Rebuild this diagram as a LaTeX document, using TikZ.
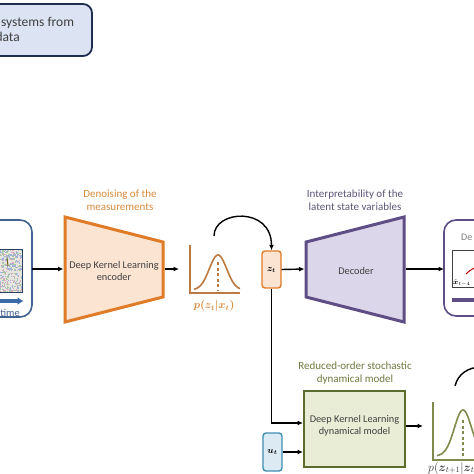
\documentclass[tikz,border=0pt]{standalone}
\usepackage{fontspec}
\setmainfont{Carlito}
\usepackage{amsmath}
\usetikzlibrary{arrows.meta}
\definecolor{navyB}{HTML}{1F2D50}
\definecolor{topfill}{HTML}{DCE3F3}
\definecolor{txtgray}{HTML}{404040}
\definecolor{inblue}{HTML}{41618F}
\definecolor{arrblue}{HTML}{3A6AA8}
\definecolor{orangeB}{HTML}{E07B28}
\definecolor{peach}{HTML}{FCE4D2}
\definecolor{orangeT}{HTML}{D98A3D}
\definecolor{distO}{HTML}{BC7A40}
\definecolor{purpleB}{HTML}{5E4E85}
\definecolor{purpleF}{HTML}{DCD6EA}
\definecolor{purpleT}{HTML}{5F5678}
\definecolor{oliveB}{HTML}{5C6B2E}
\definecolor{oliveF}{HTML}{E9EDD6}
\definecolor{oliveT}{HTML}{6E7A3E}
\definecolor{distG}{HTML}{7E8B4B}
\definecolor{tealB}{HTML}{3E8DB5}
\definecolor{lightblue}{HTML}{DCEBF3}
\definecolor{noiseA}{HTML}{D9A8C0}
\definecolor{noiseB}{HTML}{A8C8A0}
\definecolor{noiseC}{HTML}{9FB4D8}
\definecolor{noiseD}{HTML}{E8E4E0}
\begin{document}
\begin{tikzpicture}[x=1pt,y=-1pt,
  >={Latex[length=5.5pt,width=5pt]},
  conn/.style={draw=black,line width=1.4pt,->},
  title/.style={align=center,font=\fontsize{11}{13}\selectfont,inner sep=0pt},
  inner/.style={align=center,font=\fontsize{10.3}{12}\selectfont,text=txtgray,inner sep=0pt},
  smallbox/.style={line width=1.4pt,rounded corners=3pt,minimum width=19pt,minimum height=37pt,inner sep=0pt}]
\useasboundingbox (0,0) rectangle (474,474);
\clip (0,0) rectangle (474,474);
\fill[white] (0,0) rectangle (474,474);

% top box
\draw[draw=navyB,fill=topfill,line width=1.8pt,rounded corners=9pt] (-60,4) rectangle (92,56);
\node[anchor=base west,inner sep=0pt,text=txtgray,font=\fontsize{13.5}{15}\selectfont] (topA) at (1,26) {systems from};
\node[anchor=base east,inner sep=0pt,text=txtgray,font=\fontsize{13.5}{15}\selectfont] (topB) at (20,41) {data};

% input box
\draw[draw=inblue,fill=white,line width=1.6pt,rounded corners=12pt] (-40,220) rectangle (32,317);
\coordinate (inR) at (32,269);
\begin{scope}
\clip (-5,249) rectangle (22,292);
\fill[noiseD] (-5,249) rectangle (22,292);
\pgfmathsetseed{7}
\foreach \i in {1,...,120}{\pgfmathsetmacro\xx{-5+27*rnd}\pgfmathsetmacro\yy{249+43*rnd}\fill[noiseA] (\xx,\yy) rectangle ++(1.3,1.3);}
\foreach \i in {1,...,120}{\pgfmathsetmacro\xx{-5+27*rnd}\pgfmathsetmacro\yy{249+43*rnd}\fill[noiseB] (\xx,\yy) rectangle ++(1.3,1.3);}
\foreach \i in {1,...,120}{\pgfmathsetmacro\xx{-5+27*rnd}\pgfmathsetmacro\yy{249+43*rnd}\fill[noiseC] (\xx,\yy) rectangle ++(1.3,1.3);}
\draw[olive!70!black,line width=1pt] (7,258) -- (8,266);
\end{scope}
\draw[draw=inblue!70!black,line width=1pt] (-5,249) rectangle (22,292);
\coordinate (tl) at (-10,301);
\coordinate (tr) at (23.5,301);
\draw[arrblue,line width=3.5pt,-{Latex[length=6pt,width=8pt]}] (tl) -- (tr);
\node[anchor=base east,inner sep=0pt,text=inblue,font=\fontsize{10.5}{12}\selectfont] (time) at (20,316) {time};

% encoder
\draw[draw=orangeB,fill=peach,line width=3pt,line join=miter] (65,217) -- (163,242) -- (163,297) -- (65,322) -- cycle;
\node[inner] (enc) at (114,271) {Deep Kernel Learning\\encoder};
\coordinate (encIn) at (63.5,269);
\coordinate (encOut) at (164.5,269);
\node[title,text=orangeT] (tenc) at (120,200.5) {Denoising of the\\measurements};
\draw[conn] (inR) -- (encIn);

% distribution 1
\coordinate (p1L) at (179,269);
\draw[conn] (encOut) -- (p1L);
\draw[distO,line width=1.6pt] (190,245) -- (190,293) -- (240,293);
\draw[distO,line width=1.6pt,domain=194:240,samples=80,smooth] plot (\x,{290-35*exp(-(\x-218)*(\x-218)/150)});
\draw[distO,line width=1.6pt,dash pattern=on 3pt off 2.5pt] (218,262) -- (218,290);
\node[text=orangeT,inner sep=0pt,font=\fontsize{10.5}{12}\selectfont] (p1lab) at (214,306) {$\boldsymbol{p(z_t|x_t)}$};
\coordinate (p1top) at (214,236);

% z_t
\node[smallbox,draw=orangeB,fill=peach] (zt) at (271.5,269.5) {\fontsize{9}{10}\selectfont$\boldsymbol{z_t}$};
\draw[conn] (p1top) .. controls (214,210) and (271.5,206) .. (zt.north);

% decoder
\draw[draw=purpleB,fill=purpleF,line width=3pt,line join=miter] (306,242) -- (404,217) -- (404,322) -- (306,297) -- cycle;
\node[inner] (dec) at (356,271) {Decoder};
\coordinate (decIn) at (304.5,269);
\coordinate (decOut) at (405.5,269);
\node[title,text=purpleT] (tdec) at (355,200.5) {Interpretability of the\\latent state variables};
\draw[conn] (zt.east) -- (decIn);

% output box
\draw[draw=purpleB,fill=white,line width=1.6pt,rounded corners=12pt] (444,220) rectangle (530,316);
\coordinate (outL) at (444,269);
\draw[conn] (decOut) -- (outL);
\node[anchor=base west,inner sep=0pt,text=gray,font=\fontsize{10}{12}\selectfont] (outT) at (461,240.5) {De};
\draw[draw=black!75,line width=0.8pt] (452,250) rectangle (530,287);
\draw[red!75!black,line width=1pt] (466,274) .. controls (469,271) .. (476,267);
\node[anchor=west,inner sep=0pt,font=\fontsize{7}{8}\selectfont] (xhat) at (453,283) {$\hat{\boldsymbol{x}}_{t-4}$};
\fill[purpleB] (452,298) rectangle (530,302);

% dynamical model
\node[draw=oliveB,fill=oliveF,line width=2pt,minimum width=101pt,minimum height=76pt,inner sep=0pt] (dyn) at (354.5,429) {};
\node[inner] (dyntxt) at (354.5,426) {Deep Kernel Learning\\dynamical model};
\node[title,text=oliveT] (tdyn) at (355,373.5) {Reduced-order stochastic\\dynamical model};
\draw[conn] (zt.south) |- ([yshift=6pt]dyn.west);

% u_t
\node[smallbox,draw=tealB,fill=lightblue,minimum height=38pt] (ut) at (272.5,452) {\fontsize{9}{10}\selectfont$\boldsymbol{u_t}$};
\draw[conn] (ut.east) -- (ut.east -| dyn.west);

% distribution 2
\coordinate (p2L) at (423,426);
\draw[conn] ([yshift=3pt]dyn.east) -- (p2L);
\draw[distG,line width=1.6pt] (433,402) -- (433,460) -- (480,460);
\draw[distG,line width=1.6pt,domain=437:480,samples=80,smooth] plot (\x,{456-46*exp(-(\x-463)*(\x-463)/150)});
\draw[distG,line width=1.6pt,dash pattern=on 3pt off 2.5pt] (463,420) -- (463,456);
\node[anchor=base west,inner sep=0pt,text=txtgray,font=\fontsize{11.5}{13}\selectfont] (p2lab) at (428,471) {$p(\boldsymbol{z}_{t+1}|\boldsymbol{z}_t)$};
\coordinate (p2top) at (455,386);
\coordinate (offR) at (482,367);
\draw[line width=1.4pt] (p2top) .. controls (458,374) and (468,367) .. (offR);
\end{tikzpicture}
\end{document}
